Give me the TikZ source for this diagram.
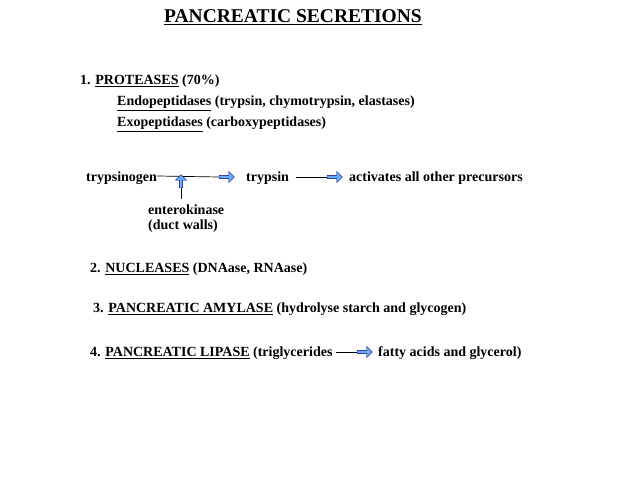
\documentclass[tikz,border=0pt]{standalone}
\usepackage{fontspec}
\setmainfont{Liberation Serif}
\usetikzlibrary{shapes.arrows}
\begin{document}
\begin{tikzpicture}[x=1pt,y=-1pt,
  txt/.style={anchor=west,inner sep=0,font=\fontsize{14}{16}\selectfont\bfseries},
  blk/.style={single arrow,draw=blue!40!black,fill=blue!55!cyan!60,line width=0.4pt,minimum height=15,minimum width=11,single arrow head extend=2.5,inner sep=0.8},
  ln/.style={line width=0.7pt}]
\useasboundingbox (0,0) rectangle (638,478);
\node[inner sep=0,font=\fontsize{19.5}{22}\selectfont\bfseries] (title) at (293,17) {\underline{PANCREATIC SECRETIONS}};
\node[txt] (p1) at (80,81) {1. \underline{PROTEASES} (70\%)};
\node[txt] (p1a) at (117,103) {\underline{Endopeptidases} (trypsin, chymotrypsin, elastases)};
\node[txt] (p1b) at (117,124) {\underline{Exopeptidases} (carboxypeptidases)};
\node[txt] (tg) at (86,178) {trypsinogen};
\node[blk] (a1) at (226,177) {};
\draw[ln] (tg.east) ++(0,-2) coordinate (c1) -- (a1.west);
\node[txt] (tr) at (246,178) {trypsin};
\node[blk] (a2) at (334,177) {};
\draw[ln] (296,177) coordinate (c2) -- (a2.west);
\node[txt] (act) at (349,178) {activates all other precursors};
\node[blk,rotate=90,minimum height=13] (a3) at (181,182) {};
\coordinate (c3) at (181,199);
\draw[ln] (c3) -- (a3.west);
\node[txt] (ek) at (148,210) {enterokinase};
\node[txt] (dw) at (148,226) {(duct walls)};
\node[txt] (p2) at (90,269) {2. \underline{NUCLEASES} (DNAase, RNAase)};
\node[txt] (p3) at (93,309) {3. \underline{PANCREATIC AMYLASE} (hydrolyse starch and glycogen)};
\node[txt] (p4) at (90,353) {4. \underline{PANCREATIC LIPASE} (triglycerides};
\node[blk] (a4) at (364,352) {};
\draw[ln] (p4.east)++(3,-1) coordinate (c4) -- (a4.west);
\node[txt] (fa) at (378,353) {fatty acids and glycerol)};
\end{tikzpicture}
\end{document}
